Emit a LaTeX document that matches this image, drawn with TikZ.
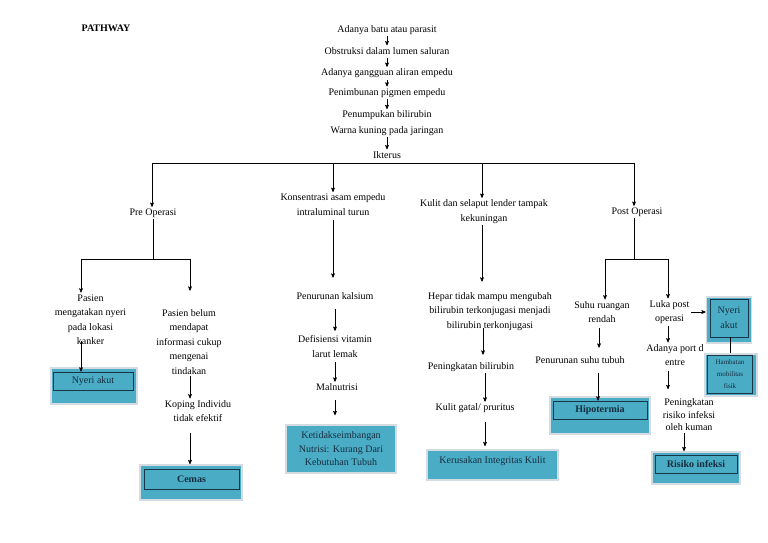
\documentclass[tikz,border=0pt]{standalone}
\usepackage{fontspec}
\setmainfont{Liberation Serif}
\usetikzlibrary{positioning,arrows}
\definecolor{boxblue}{RGB}{75,172,198}
\definecolor{boxline}{RGB}{24,52,70}
\definecolor{boxtext}{RGB}{22,45,62}
\definecolor{shade}{RGB}{212,220,226}
\begin{document}
\begin{tikzpicture}[x=1pt,y=-1pt,>=stealth',line width=0.6pt,
  every node/.style={font=\fontsize{10}{14.5}\selectfont},
  chain node/.style={inner sep=1.5pt,text height=7pt,text depth=2pt},
  txt node/.style={align=center,inner sep=1.5pt},
  outer box/.style={fill=boxblue,draw=shade,line width=1.6pt,text=boxtext},
  inner box/.style={fill=boxblue,draw=boxline,line width=0.9pt,text=boxtext,inner sep=0pt}]
  \useasboundingbox (0,0) rectangle (768,543);

  \node[font=\fontsize{10}{12}\selectfont\bfseries] (title) at (106,28) {PATHWAY};

  % jalur utama
  \node[chain node] (batu)      at (387,30)               {Adanya batu atau parasit};
  \node[chain node] (obstruksi) [below=9pt of batu]       {Obstruksi dalam lumen saluran};
  \node[chain node] (gangguan)  [below=9pt of obstruksi]  {Adanya gangguan aliran empedu};
  \node[chain node] (pigmen)    [below=7pt of gangguan]   {Penimbunan pigmen empedu};
  \node[chain node] (bilirubin) [below=10pt of pigmen]    {Penumpukan bilirubin};
  \node[chain node] (kuning)    [below=3pt of bilirubin]  {Warna kuning pada jaringan};
  \node[chain node] (ikterus)   [below=12pt of kuning]    {Ikterus};
  \path[->]
  (batu)      edge (obstruksi)
  (obstruksi) edge (gangguan)
  (gangguan)  edge (pigmen)
  (pigmen)    edge (bilirubin)
  (kuning)    edge (ikterus);

  \coordinate (bar pre)   at (152,163);
  \coordinate (bar nutri) at (333,163);
  \coordinate (bar kulit) at (482,163);
  \coordinate (bar post)  at (634,163);

  \node[txt node] (pre)         at (153,213)   {Pre Operasi};
  \node[txt node] (konsentrasi) at (333,204.5) {Konsentrasi asam empedu\\intraluminal turun};
  \node[txt node] (selaput)     at (484,211.5) {Kulit dan selaput lender tampak\\kekuningan};
  \node[txt node] (post)        at (637,212)   {Post Operasi};

  \draw (bar pre) -- (bar post);
  \draw[->] (bar pre) -- (bar pre |- pre.north);
  \draw[->] (bar nutri) -- (bar nutri |- konsentrasi.north);
  \draw[->] (bar kulit) -- (bar kulit |- selaput.north);
  \draw[->] (bar post) -- (bar post |- post.north);

  % pre operasi
  \coordinate (pre fork)  at (153,259);
  \coordinate (pre left)  at (81,259);
  \coordinate (pre right) at (190,259);
  \node[txt node] (pasienA) at (90.5,319.5) {Pasien\\mengatakan nyeri\\pada lokasi\\kanker};
  \node[txt node] (pasienB) at (189,342)    {Pasien belum\\mendapat\\informasi cukup\\mengenai\\tindakan};
  \node[txt node] (koping)  at (198,411)    {Koping Individu\\tidak efektif};
  \node[outer box,minimum width=86,minimum height=36] (nyeriA box) at (94,386) {};
  \node[inner box,minimum width=80,minimum height=18] (nyeriA) at (93,381) {Nyeri akut};
  \node[outer box,minimum width=102,minimum height=35] (cemas box) at (191,482.5) {};
  \node[inner box,minimum width=95,minimum height=20,font=\fontsize{10}{12}\selectfont\bfseries] (cemas) at (191.5,479) {Cemas};

  \draw (pre) -- (pre fork);
  \draw (pre left) -- (pre right);
  \draw[->] (pre left) -- (pre left |- pasienA.north);
  \draw[->,shorten >=17pt] (pre right) -- (pre right |- pasienB.north);
  \draw[->] ([yshift=5pt]pasienA.south -| pre left) -- (pre left |- nyeriA.north);
  \draw[->] (pasienB.south -| pre right) -- (pre right |- koping.north);
  \draw[->,shorten <=9pt] (koping.south -| pre right) -- (pre right |- cemas box.north);

  % nutrisi
  \node[chain node] (kalsium)    at (335,297)   {Penurunan kalsium};
  \node[txt node]   (vitamin)    at (335,346.5) {Defisiensi vitamin\\larut lemak};
  \node[chain node] (malnutrisi) at (337,388)   {Malnutrisi};
  \node[outer box,align=center,font=\fontsize{10}{13.5}\selectfont,minimum width=110,minimum height=48] (nutrisi) at (341,449) {Ketidakseimbangan\\Nutrisi: Kurang Dari\\Kebutuhan Tubuh};
  \draw[->,shorten <=3pt,shorten >=13pt] (konsentrasi.south) -- (konsentrasi.south |- kalsium.north);
  \draw[->,shorten <=6pt,shorten >=3pt] (kalsium.south) -- (kalsium.south |- vitamin.north);
  \draw[->,shorten <=3pt] (vitamin.south) -- (vitamin.south |- malnutrisi.north);
  \draw[->,shorten <=6pt,shorten >=9pt] (malnutrisi.south -| vitamin) -- (vitamin |- nutrisi.north);

  % kulit
  \node[txt node]   (hepar)  at (490,311.5) {Hepar tidak mampu mengubah\\bilirubin terkonjugasi menjadi\\bilirubin terkonjugasi};
  \node[chain node] (naik)   at (471,367)   {Peningkatan bilirubin};
  \node[chain node] (gatal)  at (475,408)   {Kulit gatal/ pruritus};
  \node[outer box,minimum width=131,minimum height=30,text height=10pt,text depth=14pt,inner ysep=3pt] (integritas) at (492.5,465) {Kerusakan Integritas Kulit};
  \draw[->,shorten >=9pt] (selaput.south -| bar kulit) -- (bar kulit |- hepar.north);
  \draw[->,shorten >=6pt] ([yshift=4pt]hepar.south -| 483,0) -- (483,0 |- naik.north);
  \draw[->] (naik.south -| 485,0) -- (485,0 |- gatal.north);
  \draw[->,shorten <=8pt,shorten >=3pt] (gatal.south -| 485,0) -- (485,0 |- integritas.north);

  % post operasi
  \coordinate (post fork)  at (634,259);
  \coordinate (post left)  at (605,259);
  \coordinate (post right) at (668,259);
  \node[txt node]   (suhu)  at (602,312) {Suhu ruangan\\rendah};
  \node[chain node] (turun) at (580,361) {Penurunan suhu tubuh};
  \node[outer box,minimum width=100,minimum height=37] (hipo box) at (600,415.5) {};
  \node[inner box,minimum width=94,minimum height=18,font=\fontsize{10}{12}\selectfont\bfseries] (hipo) at (600,410) {Hipotermia};
  \node[txt node] (luka) at (669.5,312) {Luka post\\operasi};
  \node[txt node] (port) at (675,355)   {Adanya port d\\entre};
  \node[txt node,font=\fontsize{10}{12.5}\selectfont] (risiko) at (689,415) {Peningkatan\\risiko infeksi\\oleh kuman};
  \node[outer box,minimum width=88,minimum height=32] (risiko box) at (696,468) {};
  \node[inner box,minimum width=82,minimum height=18,font=\fontsize{10}{12}\selectfont\bfseries] (infeksi) at (696,464) {Risiko infeksi};
  \node[outer box,minimum width=45,minimum height=46] (nyeriB box) at (729,320) {};
  \node[inner box,align=center,minimum width=38,minimum height=38,font=\fontsize{10}{15}\selectfont] (nyeriB) at (729,318) {Nyeri\\akut};
  \node[outer box,minimum width=52,minimum height=42] (hambatan box) at (731,375) {};
  \node[inner box,align=center,minimum width=45,minimum height=38,font=\fontsize{7}{12}\selectfont] (hambatan) at (730,374) {Hambatan\\mobilitas\\fisik};

  \draw (post.south -| post fork) -- (post fork);
  \draw (post left) -- (post right);
  \draw[->] (post left) -- (post left |- suhu.north);
  \draw[->] (post right) -- (post right |- luka.north);
  \draw[->,shorten <=3pt,shorten >=7pt] (suhu.south -| 599,0) -- (599,0 |- turun.north);
  \draw[->,shorten <=6pt] (turun.south -| 598,0) -- (598,0 |- hipo.north);
  \draw[->] (luka.east) -- (nyeriB box.west |- luka.east);
  \draw (nyeriB.south -| hambatan) -- (hambatan box.north -| hambatan);
  \draw[->] (luka.south -| post right) -- (post right |- port.north);
  \draw[->,shorten <=3pt,shorten >=8pt] (port.south -| post right) -- (post right |- risiko.north);
  \draw[->] (risiko.south -| 684,0) -- (684,0 |- risiko box.north);
\end{tikzpicture}
\end{document}
